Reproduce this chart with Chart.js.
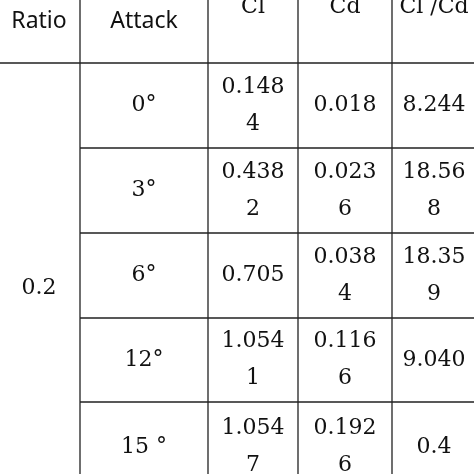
<!DOCTYPE html>
<html><head><meta charset="utf-8">
<script src="https://cdn.jsdelivr.net/npm/chart.js@4/dist/chart.umd.min.js"></script>
<style>html,body{margin:0;padding:0;background:#fff}#c{width:474px;height:474px}</style>
</head><body><div id="c"><canvas id="tbl"></canvas></div>
<script>
// table content
const headers = ['Ratio', 'Attack', 'Cl', 'Cd', 'Cl /Cd'];
const ratio = '0.2';
const attack = ['0°', '3°', '6°', '12°', '15 °'];
const cl = ['0.148\n4', '0.438\n2', '0.705', '1.054\n1', '1.054\n7'];
const cd = ['0.018', '0.023\n6', '0.038\n4', '0.116\n6', '0.192\n6'];
const clcd = ['8.244', '18.56\n8', '18.35\n9', '9.040', '0.4'];

// grid layout (in pixel units of the linear scales)
const colEdges = [-2, 80, 208, 298, 392, 476];
const rowEdges = [-30, 63, 148, 233, 318, 402, 492];

const tablePlugin = {
  id: 'table',
  afterDraw(chart) {
    const {ctx, scales: {x, y}} = chart;
    const X = v => x.getPixelForValue(v), Y = v => y.getPixelForValue(v);
    ctx.save();
    ctx.strokeStyle = '#222';
    ctx.lineWidth = 1.3;
    ctx.beginPath();
    colEdges.forEach(c => { ctx.moveTo(X(c), Y(rowEdges[0])); ctx.lineTo(X(c), Y(rowEdges[rowEdges.length-1])); });
    rowEdges.forEach((r, i) => {
      const x0 = (i <= 1 || i === rowEdges.length-1) ? colEdges[0] : colEdges[1];
      ctx.moveTo(X(x0), Y(r)); ctx.lineTo(X(colEdges[colEdges.length-1]), Y(r));
    });
    ctx.stroke();

    ctx.fillStyle = '#111';
    ctx.textAlign = 'center';
    ctx.textBaseline = 'middle';
    const cx = i => X((colEdges[i] + colEdges[i+1]) / 2);
    const txt = (s, xp, yc) => {
      const lines = s.split('\n');
      lines.forEach((l, k) => ctx.fillText(l, xp, yc + (k - (lines.length-1)/2) * 37));
    };
    ctx.font = '23px "Noto Sans"';
    ctx.fillText(headers[0], cx(0), Y(21));
    ctx.fillText(headers[1], cx(1), Y(21));
    ctx.font = '22px "DejaVu Serif"';
    for (let i = 2; i < 5; i++) ctx.fillText(headers[i], cx(i), Y(7));
    ctx.fillText(ratio, cx(0), Y(288));
    const cols = [attack, cl, cd, clcd];
    for (let r = 0; r < attack.length; r++) {
      const yc = Y((rowEdges[r+1] + rowEdges[r+2]) / 2);
      cols.forEach((col, j) => txt(col[r], cx(j+1), yc));
    }
    ctx.restore();
  }
};

new Chart(document.getElementById('tbl'), {
  type: 'scatter',
  data: {datasets: [{data: []}]},
  options: {
    responsive: true, maintainAspectRatio: false, animation: false,
    layout: {padding: 0},
    plugins: {legend: {display: false}, tooltip: {enabled: false}},
    scales: {
      x: {type: 'linear', min: 0, max: 474, display: false},
      y: {type: 'linear', min: 0, max: 474, reverse: true, display: false}
    }
  },
  plugins: [tablePlugin]
});
</script></body></html>
